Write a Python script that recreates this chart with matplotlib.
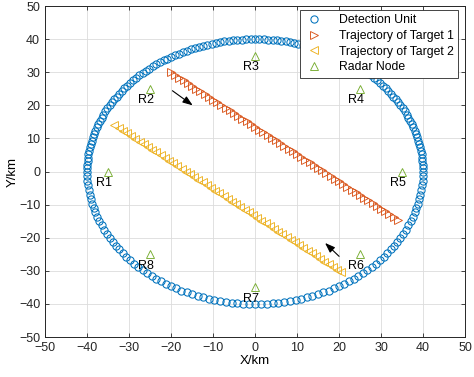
import numpy as np
import matplotlib
matplotlib.use("Agg")
from matplotlib import pyplot as plt

plt.rcParams['font.family'] = ['Liberation Sans', 'DejaVu Sans']

# detection units on a ring (radius in km), denser on the upper half
ring_radius = 40
ring_upper_count = 120
ring_lower_count = 90

# target trajectories: start / end point (km) and number of samples
target1_start = (-20, 30)
target1_end = (34, -14.5)
target2_start = (-33.5, 14)
target2_end = (20.5, -30.5)
n_track = 55

# radar nodes
radar_names = ["R1", "R2", "R3", "R4", "R5", "R6", "R7", "R8"]
radar_x = [-35, -25, 0, 25, 35, 25, 0, -25]
radar_y = [0, 25, 35, 25, 0, -25, -35, -25]

# direction arrows (tail -> head)
arrow_tails = [(-20.2, 24.9), (20.5, -26.2)]
arrow_heads = [(-14.3, 19.5), (16.2, -21.0)]

ticks = [-50, -40, -30, -20, -10, 0, 10, 20, 30, 40, 50]

blue = "#0072BD"
orange = "#D95319"
yellow = "#EDB120"
green = "#77AC30"

ang_up = np.linspace(0, np.pi, ring_upper_count, endpoint=False)
ang_dn = np.linspace(np.pi, 2 * np.pi, ring_lower_count, endpoint=False)
ang = np.concatenate([ang_up, ang_dn])
ring_x = ring_radius * np.cos(ang)
ring_y = ring_radius * np.sin(ang)

t1x = np.linspace(target1_start[0], target1_end[0], n_track)
t1y = np.linspace(target1_start[1], target1_end[1], n_track)
t2x = np.linspace(target2_start[0], target2_end[0], n_track)
t2y = np.linspace(target2_start[1], target2_end[1], n_track)

fig = plt.figure(figsize=(4.74, 3.77), dpi=100)
ax = fig.add_axes([0.095, 0.106, 0.886, 0.878])

ax.plot(ring_x, ring_y, 'o', color=blue, mfc='none', ms=5.2, mew=0.75,
        label="Detection Unit")
ax.plot(t1x, t1y, '>', color=orange, mfc='none', ms=6, mew=0.65,
        label="Trajectory of Target 1")
ax.plot(t2x, t2y, '<', color=yellow, mfc='none', ms=6, mew=0.65,
        label="Trajectory of Target 2")
ax.plot(radar_x, radar_y, '^', color=green, mfc='none', ms=6, mew=0.65,
        label="Radar Node")

for name, x, y in zip(radar_names, radar_x, radar_y):
    ax.text(x - 1, y - 3.4, name, ha='center', va='center', fontsize=9,
            color='black')

for tail, head in zip(arrow_tails, arrow_heads):
    ax.annotate("", xy=head, xytext=tail,
                arrowprops=dict(arrowstyle="-|>,head_length=0.6,head_width=0.22",
                                color='black', lw=0.8))

ax.set_xlim(-50, 50)
ax.set_ylim(-50, 50)
ax.set_xticks(ticks)
ax.set_yticks(ticks)
ax.grid(True, color='#dcdcdc', lw=0.6)
ax.set_axisbelow(True)
ax.tick_params(direction='in', top=True, right=True, labelsize=9,
               colors='#262626', length=3, width=0.6)
for s in ax.spines.values():
    s.set_color('#262626')
    s.set_linewidth(0.7)
ax.set_xlabel("X/km", fontsize=9.5, labelpad=1)
ax.set_ylabel("Y/km", fontsize=9.5, labelpad=0)

leg = ax.legend(loc='upper right', bbox_to_anchor=(0.983, 0.988), fontsize=8.8,
                fancybox=False, framealpha=1, edgecolor='#262626',
                handlelength=1.5, handletextpad=1.3, borderpad=0.35,
                labelspacing=0.3, borderaxespad=0)
leg.get_frame().set_linewidth(0.6)

fig.savefig("out.png", dpi=100)
